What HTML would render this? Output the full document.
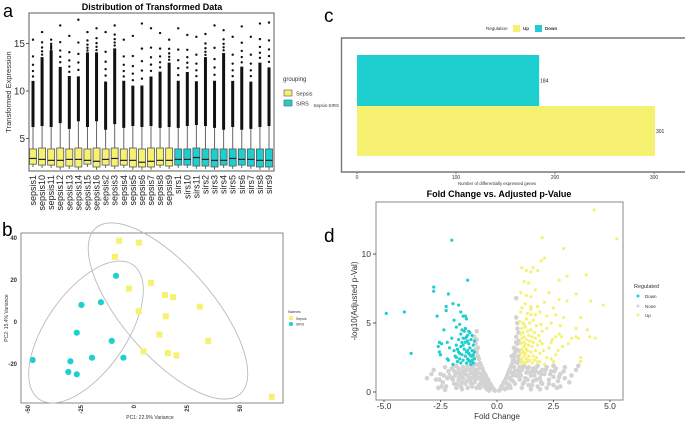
<!DOCTYPE html>
<html><head><meta charset="utf-8">
<style>
html,body{margin:0;padding:0;background:#fff;}
svg{display:block;font-family:"Liberation Sans",sans-serif;}
</style></head>
<body>
<svg id="fig" width="685" height="422" viewBox="0 0 685 422">
<g id="pa"></g>
<g id="pb"></g>
<g id="pc"></g>
<g id="pd"></g>
</svg>
<script>
// ---------- Panel a data ----------
const aSamples=["sepsis1","sepsis10","sepsis11","sepsis12","sepsis13","sepsis14","sepsis15","sepsis16","sepsis2","sepsis3","sepsis4","sepsis5","sepsis6","sepsis7","sepsis8","sepsis9","sirs1","sirs10","sirs11","sirs2","sirs3","sirs4","sirs5","sirs6","sirs7","sirs8","sirs9"];
const aGroups=["Sepsis","Sepsis","Sepsis","Sepsis","Sepsis","Sepsis","Sepsis","Sepsis","Sepsis","Sepsis","Sepsis","Sepsis","Sepsis","Sepsis","Sepsis","Sepsis","SIRS","SIRS","SIRS","SIRS","SIRS","SIRS","SIRS","SIRS","SIRS","SIRS","SIRS"];
const aQ1=[2.3,2.2,2.2,2.0,2.1,2.0,2.3,2.0,2.2,2.1,2.2,2.0,2.0,2.0,2.2,2.1,2.2,2.2,2.1,2.1,2.0,2.2,2.1,2.2,2.1,2.0,2.0];
const aMed=[2.9,2.8,2.7,2.7,2.8,2.8,2.7,2.6,2.8,2.9,2.7,2.7,2.5,2.6,2.7,2.7,2.8,2.8,3.0,2.8,2.7,2.7,2.9,2.8,2.8,2.7,2.7];
const aQ3=[3.9,4.0,3.9,4.0,3.9,4.0,3.9,4.0,3.9,4.0,3.9,4.0,3.9,4.0,4.0,4.0,3.9,3.9,4.0,3.9,3.9,3.9,3.9,3.9,3.9,3.9,3.9];
const aWhiskTop=[6.3,6.4,6.3,6.7,6.1,6.9,6.3,6.9,6.0,6.6,6.2,6.4,6.3,6.4,6.2,6.3,6.2,6.4,6.5,6.4,6.2,6.0,6.3,6.0,6.1,6.3,6.4];
const aDenseTop=[11,13.5,14.3,12.5,11.5,11.5,14,14,11,14.5,11,10.5,10.5,11.5,12,13,11,12,11,13.5,11,14,11,12.5,11,13,12.5];
const aMaxOut=[15.4,16.2,15.4,16.9,15.8,17.5,16.2,16.6,16.2,16.9,15.4,15.8,17.1,16.6,16.1,15.4,16.6,15.9,15.7,16.0,16.9,16.4,15.7,16.8,15.7,17.1,17.2];
const aYTicks=[5,10,15];
// ---------- Panel b data ----------
const bSepsisX=[-7,2.4,-9,8,-2.4,14.6,18.4,31,2.2,15,12,35,4.5,16,20,65];
const bSepsisY=[38.7,37.8,31,18.6,15.9,12.9,11.8,7.3,5.1,2.7,-6,-9,-14,-14.8,-15.9,-35.6];
const bSirsX=[-8.5,-15.6,-24.8,-27,-10.5,-47.8,-30,-19.8,-5,-31,-27];
const bSirsY=[22,9.4,8.1,-5.1,-9,-18.1,-18.7,-17,-17,-23.8,-24.9];
const bXTicks=[-50,-25,0,25,50];
const bYTicks=[-20,0,20,40];
// ---------- Panel c data ----------
const cCats=["Down","Up"];
const cVals=[184,301];
const cXTicks=[0,100,200,300];
// ---------- Panel d data ----------
const dDown=[[-4.9,5.7],[-4.1,5.8],[-3.8,2.8],[-2.8,7.6],[-2.8,7.3],[-2.65,5.5],[-2.55,3.6],[-2.6,3.3],[-2.45,3.5],[-2.55,2.9],[-2.5,2.7],[-2.35,4.5],[-2.25,6.2],[-2.25,5.9],[-2.15,7.1],[-2.0,11.0],[-1.95,6.4],[-1.7,6.3],[-1.3,8.1],[-1.6,5.8],[-1.5,5.5],[-1.4,5.5],[-1.35,5.3],[-1.65,4.9],[-1.8,4.7],[-1.9,5.2],[-2.2,3.6],[-2.1,3.2],[-2.2,2.4],[-2.15,2.3],[-2.0,3.9],[-1.9,3.0],[-1.85,2.6],[-1.8,3.4],[-1.75,2.2],[-1.7,3.8],[-1.7,2.9],[-1.65,2.4],[-1.6,4.2],[-1.6,3.3],[-1.55,2.7],[-1.5,3.9],[-1.5,2.3],[-1.45,3.1],[-1.45,4.4],[-1.4,2.6],[-1.4,3.6],[-1.35,2.1],[-1.35,4.0],[-1.3,3.0],[-1.3,2.4],[-1.25,3.5],[-1.25,2.8],[-1.2,4.3],[-1.2,2.2],[-1.2,3.2],[-1.15,2.6],[-1.15,3.8],[-1.1,2.3],[-1.1,3.0],[-1.1,4.1],[-1.05,2.1],[-1.05,2.7],[-1.05,3.4],[-1.0,2.4],[-1.0,3.7],[-1.75,3.1],[-1.55,3.6],[-1.65,2.8],[-1.35,2.9],[-1.25,2.3],[-1.15,2.0],[-1.4,4.6],[-1.3,4.1],[-1.0,2.9],[-1.1,2.6],[-1.2,2.7],[-1.3,3.7],[-1.5,3.4],[-1.6,2.1],[-1.8,2.5],[-1.95,2.0],[-1.4,3.9],[-1.55,4.5],[-1.25,4.4]];
const dUp=[[4.3,13.2],[5.3,11.1],[2.0,11.2],[2.95,10.4],[2.1,9.7],[1.95,9.5],[1.6,9.0],[1.5,8.7],[1.3,8.8],[1.8,8.8],[1.1,9.0],[1.2,8.0],[1.4,7.9],[2.75,8.1],[3.1,8.4],[3.95,8.5],[1.05,7.2],[1.3,7.0],[1.5,6.9],[1.7,7.4],[2.3,7.2],[3.5,7.1],[2.75,6.7],[3.1,6.6],[4.15,6.6],[4.7,6.3],[1.1,6.1],[1.5,6.2],[2.1,6.5],[2.5,6.1],[1.9,5.8],[2.2,5.5],[2.6,5.6],[2.95,5.4],[3.7,5.4],[1.5,5.6],[2.4,5.0],[2.8,4.8],[3.5,4.6],[4.0,4.5],[4.1,4.0],[4.35,3.9],[3.6,3.9],[3.5,4.0],[3.3,3.9],[2.6,4.0],[2.75,4.2],[2.85,4.0],[2.45,3.8],[3.15,3.5],[2.9,3.3],[3.7,2.5],[3.7,2.2],[2.7,3.0],[2.6,2.7],[2.4,3.6],[2.3,3.2],[2.2,4.6],[2.0,4.4],[2.05,3.0],[2.2,2.5],[2.5,2.2],[2.4,2.4],[2.1,2.0],[1.9,2.2],[1.05,2.1],[1.05,2.8],[1.05,3.5],[1.05,4.2],[1.1,2.4],[1.1,3.1],[1.1,3.9],[1.1,4.6],[1.15,2.2],[1.15,2.9],[1.15,3.6],[1.15,4.3],[1.15,5.0],[1.2,2.6],[1.2,3.3],[1.2,4.0],[1.25,2.1],[1.25,2.8],[1.25,3.5],[1.25,4.7],[1.3,2.4],[1.3,3.1],[1.3,3.8],[1.3,5.3],[1.35,2.2],[1.35,3.0],[1.35,4.4],[1.4,2.6],[1.4,3.4],[1.4,4.1],[1.45,2.3],[1.45,3.7],[1.45,5.0],[1.5,2.9],[1.5,4.5],[1.55,2.1],[1.55,3.3],[1.55,4.0],[1.6,2.6],[1.6,3.6],[1.6,5.2],[1.65,2.3],[1.65,4.3],[1.7,3.0],[1.7,3.9],[1.75,2.5],[1.75,4.8],[1.8,3.4],[1.8,2.2],[1.85,4.1],[1.9,2.8],[1.9,3.7],[1.95,4.9],[2.0,3.5],[1.2,4.9],[1.35,5.7],[1.5,6.0],[1.7,5.6],[1.8,6.2],[1.0,5.1],[1.05,5.8],[1.25,6.4]];
const dNone=[[-0.1,0.1],[-0.2,0.3],[-0.3,0.6],[-0.4,0.9],[-0.5,1.2],[-0.6,1.5],[-0.7,1.9],[-0.8,2.4],[-0.9,2.9],[-1.0,4.0],[-0.95,3.5],[-0.85,1.4],[-0.75,1.0],[-0.65,0.6],[-0.55,0.4],[-0.45,0.2],[-0.35,0.1],[-0.9,4.4],[-0.95,2.0],[-0.8,1.7],[-0.7,1.3],[-0.6,0.9],[-0.5,0.6],[-0.4,0.4],[-0.3,0.3],[-0.9,1.2],[-0.85,3.2],[-1.0,1.5],[-1.1,1.8],[-1.2,1.6],[-1.3,1.9],[-1.4,1.5],[-1.5,1.8],[-1.6,1.3],[-1.7,1.7],[-1.8,1.9],[-1.9,1.5],[-2.0,1.7],[-2.1,1.2],[-2.2,1.0],[-2.3,1.8],[-2.5,1.3],[-2.7,0.9],[-1.1,1.0],[-1.2,0.8],[-1.3,1.2],[-1.5,1.0],[-1.7,0.9],[-1.9,0.6],[-2.4,0.7],[-1.0,0.7],[-0.8,0.5],[-1.4,0.6],[-1.6,0.4],[-2.0,1.0],[-2.25,0.4],[-2.9,1.3],[-1.1,0.4],[-0.9,0.3],[-1.3,0.3],[-1.8,0.3],[-2.6,0.3],[-2.3,0.15],[-1.05,1.3],[-1.25,1.1],[-1.45,1.3],[-1.65,1.1],[-1.85,1.2],[-0.95,0.9],[-0.75,0.3],[-1.55,0.2],[0.1,0.1],[0.2,0.4],[0.3,0.7],[0.4,1.0],[0.5,1.4],[0.6,1.8],[0.7,2.3],[0.8,2.9],[0.9,3.5],[0.95,4.3],[0.85,6.8],[0.9,5.0],[0.85,4.0],[0.75,3.2],[0.65,2.6],[0.55,0.5],[0.45,0.3],[0.35,0.2],[0.7,1.2],[0.6,0.9],[0.8,1.5],[0.9,2.1],[1.0,1.8],[1.1,1.6],[1.2,1.9],[1.3,1.4],[1.4,1.8],[1.5,1.2],[1.6,1.7],[1.7,1.5],[1.8,1.9],[1.9,1.0],[2.0,1.6],[2.1,1.3],[2.2,1.8],[2.3,0.9],[2.4,1.5],[2.5,1.1],[2.6,1.7],[2.7,0.8],[2.8,1.3],[3.0,1.0],[3.6,1.9],[1.0,0.9],[1.2,0.7],[1.4,0.5],[1.6,0.8],[1.8,0.4],[2.0,0.6],[2.2,0.3],[2.5,0.5],[0.8,0.6],[0.6,0.3],[1.1,0.3],[1.5,0.2],[1.9,0.2],[2.8,0.4],[3.2,0.7],[1.05,1.2],[1.25,1.0],[1.45,1.4],[1.65,1.2],[1.85,1.4],[0.95,2.6],[0.85,3.6],[0.75,2.7],[0.95,3.0],
[-0.15,0.2],[-0.25,0.45],[-0.35,0.7],[-0.45,1.0],[-0.55,1.3],[-0.65,1.7],[-0.75,2.1],[-0.85,2.6],[-0.95,3.1],[-0.9,3.8],[-1.0,2.5],[-1.05,1.9],[-1.15,1.4],[-1.35,1.6],[-1.55,1.5],[-1.75,1.4],[-1.95,1.8],[-2.15,1.5],[-2.35,1.2],[-2.55,0.9],[-1.15,0.6],[-1.35,0.8],[-1.55,0.7],[-1.75,0.6],[-1.95,0.9],[-2.45,0.4],[-0.65,1.1],[-0.55,0.8],[-0.45,0.6],[-0.7,0.7],[-0.85,1.0],[-0.95,1.6],[-1.0,1.1],[-0.8,2.0],[0.15,0.2],[0.25,0.5],[0.35,0.8],[0.45,1.2],[0.55,1.6],[0.65,2.0],[0.75,2.5],[0.85,3.1],[0.95,3.7],[0.9,4.6],[0.85,5.4],[0.95,2.3],[1.0,1.4],[1.15,1.8],[1.35,1.7],[1.55,1.5],[1.75,1.8],[1.95,1.3],[2.15,1.6],[2.35,1.3],[2.55,1.5],[2.75,1.1],[2.95,1.5],[3.3,1.2],[1.15,0.6],[1.35,0.9],[1.55,0.5],[1.75,0.9],[1.95,0.7],[2.3,0.6],[2.65,0.3],[0.65,1.4],[0.55,1.0],[0.45,0.6],[0.7,0.8],[0.85,1.2],[0.95,1.6],[1.0,1.1],[0.8,2.2],[0.75,1.8],[3.5,1.6],[3.0,1.8],[2.5,1.9],[-3.1,1.0],[-2.8,1.6]];
const dXTicks=[-5,-2.5,0,2.5,5];
const dXTickLabels=["-5.0","-2.5","0.0","2.5","5.0"];
const dYTicks=[0,5,10];

const NS="http://www.w3.org/2000/svg";
function mk(parent,tag,attrs,name,text){
  const e=document.createElementNS(NS,tag);
  for(const k in attrs)e.setAttribute(k,attrs[k]);
  
  
  if(text!==undefined)e.textContent=text;
  parent.appendChild(e);return e;
}
const YEL="#f6f170",TEAL="#1ecfcf";

// ===== Panel A =====
(function(){
  const g=document.getElementById('pa');
  const L=29,R=274,T=13,B=171;
  const ay=v=>186-v*9.5;
  const ax=i=>33+i*((269-33)/(aSamples.length-1));
  mk(g,'text',{x:3,y:17,'font-size':18},'panel-label-a','a');
  mk(g,'text',{x:152,y:10,'font-size':9,'font-weight':'bold','text-anchor':'middle'},'chart-title','Distribution of Transformed Data');
  mk(g,'rect',{x:L,y:T,width:R-L,height:B-T,fill:'#fff',stroke:'#777','stroke-width':1.2},'plot-frame');
  aYTicks.forEach(t=>{
    mk(g,'text',{x:25,y:ay(t)+3.5,'font-size':10,'text-anchor':'end',fill:'#333'},'y-tick-label',String(t));
    mk(g,'line',{x1:26,x2:L,y1:ay(t),y2:ay(t),stroke:'#555'},'y-tick');
  });
  mk(g,'text',{x:0,y:0,'font-size':7.5,'text-anchor':'middle',fill:'#333',transform:`translate(11,${(T+B)/2}) rotate(-90)`},'y-axis-title','Transformed Expression');
  aSamples.forEach((s,i)=>{
    const x=ax(i),w=7;
    const col=aGroups[i]==="Sepsis"?YEL:TEAL;
    mk(g,'line',{x1:x,x2:x,y1:ay(aQ3[i]),y2:ay(aWhiskTop[i]),stroke:'#666','stroke-width':1},'whisker-'+s);
    mk(g,'line',{x1:x,x2:x,y1:ay(aQ1[i]),y2:ay(aQ1[i]-0.3),stroke:'#666','stroke-width':1},'whisker-low-'+s);
    let d='';
    for(let v=aWhiskTop[i];v<=aDenseTop[i];v+=0.12){d+=`M${x-1.5},${ay(v)}h3`;}
    mk(g,'path',{d:d,stroke:'#111','stroke-width':1.6},'outliers-dense-'+s);
    const gap=aMaxOut[i]-aDenseTop[i];
    [0.12,0.25,0.4,0.6,1].forEach(f=>{
      mk(g,'circle',{cx:x,cy:ay(aDenseTop[i]+gap*f),r:1.2,fill:'#111'},'outlier-'+s);
    });
    mk(g,'rect',{x:x-w/2,y:ay(aQ3[i]),width:w,height:ay(aQ1[i])-ay(aQ3[i]),fill:col,stroke:'#555','stroke-width':0.8},'box-'+s);
    mk(g,'line',{x1:x-w/2,x2:x+w/2,y1:ay(aMed[i]),y2:ay(aMed[i]),stroke:'#222','stroke-width':1.2},'median-'+s);
    mk(g,'text',{x:0,y:0,'font-size':9,'text-anchor':'end',fill:'#222',transform:`translate(${x+3},175) rotate(-90)`},'x-tick-label',s);
  });
  mk(g,'text',{x:283,y:81,'font-size':6,fill:'#333'},'legend-title','grouping');
  mk(g,'rect',{x:284,y:90,width:8,height:6,fill:YEL,stroke:'#555','stroke-width':0.6},'legend-key-sepsis');
  mk(g,'text',{x:296,y:95.5,'font-size':5.5,fill:'#333'},'legend-label-sepsis','Sepsis');
  mk(g,'rect',{x:284,y:100,width:8,height:6,fill:TEAL,stroke:'#555','stroke-width':0.6},'legend-key-sirs');
  mk(g,'text',{x:296,y:105.5,'font-size':5.5,fill:'#333'},'legend-label-sirs','SIRS');
})();

// ===== Panel B =====
(function(){
  const g=document.getElementById('pb');
  const L=21,R=283,T=233,B=403;
  const bx=v=>134+v*53/25, by=v=>322-v*42/20;
  mk(g,'text',{x:2,y:236,'font-size':19},'panel-label-b','b');
  mk(g,'rect',{x:L,y:T,width:R-L,height:B-T,fill:'#fff',stroke:'#888','stroke-width':1},'plot-frame');
  bYTicks.forEach(t=>{
    mk(g,'text',{x:17,y:by(t)+2,'font-size':6,'text-anchor':'end','font-weight':'bold',fill:'#333'},'y-tick-label',String(t));
  });
  bXTicks.forEach(t=>{
    mk(g,'text',{x:0,y:0,'font-size':6,'font-weight':'bold','text-anchor':'end',fill:'#333',transform:`translate(${bx(t)+2},405) rotate(-90)`},'x-tick-label',String(t));
  });
  mk(g,'text',{x:150,y:419,'font-size':5,'text-anchor':'middle',fill:'#333'},'x-axis-title','PC1: 22.9% Variance');
  mk(g,'text',{x:0,y:0,'font-size':5,'text-anchor':'middle',fill:'#333',transform:`translate(8,318) rotate(-90)`},'y-axis-title','PC2: 15.4% Variance');
  mk(g,'ellipse',{cx:0,cy:0,rx:82,ry:40,fill:'none',stroke:'#bbb','stroke-width':0.9,transform:'translate(86,332) rotate(-55)'},'ellipse-sirs');
  mk(g,'ellipse',{cx:0,cy:0,rx:110,ry:45,fill:'none',stroke:'#bbb','stroke-width':0.9,transform:'translate(168,311) rotate(49)'},'ellipse-sepsis');
  bSepsisX.forEach((v,i)=>{
    mk(g,'rect',{x:bx(v)-3,y:by(bSepsisY[i])-3,width:6,height:6,fill:YEL},'point-sepsis');
  });
  bSirsX.forEach((v,i)=>{
    mk(g,'circle',{cx:bx(v),cy:by(bSirsY[i]),r:3.1,fill:TEAL},'point-sirs');
  });
  mk(g,'text',{x:288,y:313,'font-size':4,fill:'#333'},'legend-title','Names');
  mk(g,'rect',{x:289,y:316,width:4,height:4,fill:YEL},'legend-key-sepsis');
  mk(g,'text',{x:296,y:320,'font-size':3.5,fill:'#333'},'legend-label-sepsis','Sepsis');
  mk(g,'circle',{cx:291,cy:324,r:2,fill:TEAL},'legend-key-sirs');
  mk(g,'text',{x:296,y:325.5,'font-size':3.5,fill:'#333'},'legend-label-sirs','SIRS');
})();

// ===== Panel C =====
(function(){
  const g=document.getElementById('pc');
  const cx=v=>357+v*(654-357)/300;
  mk(g,'text',{x:324,y:22,'font-size':19},'panel-label-c','c');
  mk(g,'path',{d:'M685,38H341.5V172H685',fill:'none',stroke:'#777','stroke-width':1.4},'plot-frame');
  mk(g,'text',{x:486,y:30,'font-size':4.5,fill:'#333'},'legend-title','Regulation');
  mk(g,'rect',{x:513,y:25,width:7,height:7,fill:YEL},'legend-key-up');
  mk(g,'text',{x:523,y:30,'font-size':4.5,fill:'#333','font-weight':'bold'},'legend-label-up','Up');
  mk(g,'rect',{x:535,y:25,width:7,height:7,fill:TEAL},'legend-key-down');
  mk(g,'text',{x:545,y:30,'font-size':4.5,fill:'#333','font-weight':'bold'},'legend-label-down','Down');
  const rows=[[55,106],[106,156]];
  cCats.forEach((c,i)=>{
    const col=c==="Up"?YEL:TEAL;
    mk(g,'rect',{x:cx(0),y:rows[i][0],width:cx(cVals[i])-cx(0),height:rows[i][1]-rows[i][0],fill:col},'bar-'+c.toLowerCase());
    mk(g,'text',{x:cx(cVals[i])+1,y:(rows[i][0]+rows[i][1])/2+2,'font-size':5,fill:'#222'},'bar-value-'+c.toLowerCase(),String(cVals[i]));
  });
  mk(g,'text',{x:339,y:107,'font-size':4.5,'text-anchor':'end',fill:'#333'},'y-category-label','Sepsis-SIRS');
  cXTicks.forEach(t=>{
    mk(g,'line',{x1:cx(t),x2:cx(t),y1:172,y2:174,stroke:'#777'},'x-tick');
    mk(g,'text',{x:cx(t),y:179,'font-size':5,'text-anchor':'middle',fill:'#333'},'x-tick-label',String(t));
  });
  mk(g,'text',{x:497,y:185,'font-size':4.3,'text-anchor':'middle',fill:'#333'},'x-axis-title','Number of differentially expressed genes');
})();

// ===== Panel D =====
(function(){
  const g=document.getElementById('pd');
  const L=376,R=623,T=202,B=400;
  const dx=v=>497+v*22.6, dy=v=>392-v*13.8;
  mk(g,'text',{x:324,y:242,'font-size':19},'panel-label-d','d');
  mk(g,'text',{x:499,y:197,'font-size':9,'font-weight':'bold','text-anchor':'middle'},'chart-title','Fold Change vs. Adjusted p-Value');
  mk(g,'rect',{x:L,y:T,width:R-L,height:B-T,fill:'#fff',stroke:'#888','stroke-width':1},'plot-frame');
  dYTicks.forEach(t=>{
    mk(g,'text',{x:371,y:dy(t)+3,'font-size':8.5,'text-anchor':'end',fill:'#333'},'y-tick-label',String(t));
    mk(g,'line',{x1:373,x2:L,y1:dy(t),y2:dy(t),stroke:'#555'},'y-tick');
  });
  dXTicks.forEach((t,i)=>{
    mk(g,'text',{x:dx(t),y:409,'font-size':8.5,'text-anchor':'middle',fill:'#333'},'x-tick-label',dXTickLabels[i]);
    mk(g,'line',{x1:dx(t),x2:dx(t),y1:B,y2:B+2,stroke:'#555'},'x-tick');
  });
  mk(g,'text',{x:497,y:419,'font-size':8,'text-anchor':'middle',fill:'#333'},'x-axis-title','Fold Change');
  mk(g,'text',{x:0,y:0,'font-size':8,'text-anchor':'middle',fill:'#333',transform:`translate(357,301) rotate(-90)`},'y-axis-title','-log10(Adjusted p-Val)');
  dNone.forEach(p=>mk(g,'circle',{cx:dx(p[0]),cy:dy(p[1]),r:2.3,fill:'#d3d3d3'},'point-none'));
  dDown.forEach(p=>mk(g,'circle',{cx:dx(p[0]),cy:dy(p[1]),r:1.6,fill:TEAL},'point-down'));
  dUp.forEach(p=>mk(g,'circle',{cx:dx(p[0]),cy:dy(p[1]),r:1.6,fill:YEL},'point-up'));
  mk(g,'text',{x:634,y:288,'font-size':5.5,fill:'#333'},'legend-title','Regulated');
  [["Down",TEAL,296],["None","#d3d3d3",306],["Up",YEL,315]].forEach(e=>{
    mk(g,'circle',{cx:638,cy:e[2],r:1.5,fill:e[1]},'legend-key-'+e[0].toLowerCase());
    mk(g,'text',{x:645,y:e[2]+1.8,'font-size':4.5,fill:'#333'},'legend-label-'+e[0].toLowerCase(),e[0]);
  });
})();
</script>
</body></html>
